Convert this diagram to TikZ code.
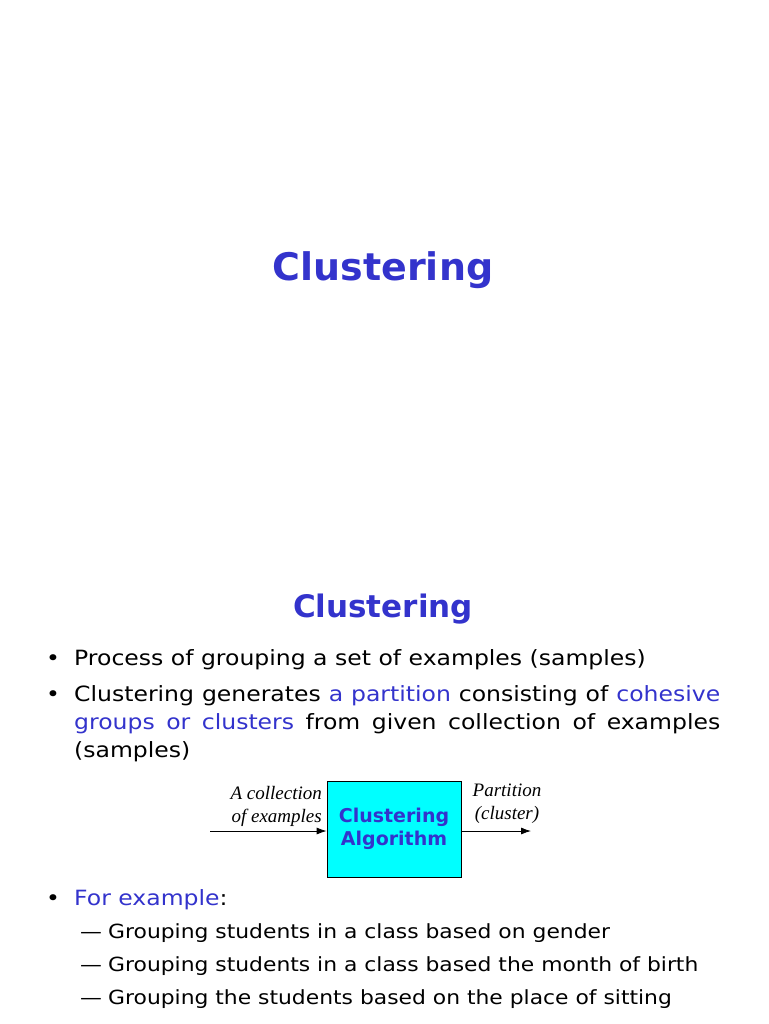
\documentclass[tikz,border=0pt]{standalone}
\usepackage{fontspec}
\setmainfont{DejaVu Sans}[FakeStretch=1.12]
\newfontfamily\titlefont{DejaVu Sans}
\newfontfamily\serifit{Liberation Serif}
\usetikzlibrary{arrows.meta}
\definecolor{tblue}{RGB}{51,51,204}
\definecolor{tcyan}{RGB}{0,255,255}
\begin{document}
\begin{tikzpicture}[x=1pt,y=-1pt,
  title/.style={font=\titlefont\bfseries\fontsize{38}{44}\selectfont,text=tblue},
  btext/.style={anchor=base west,font=\fontsize{21}{28}\selectfont,inner sep=0},
  stext/.style={anchor=base west,font=\fontsize{19.5}{26}\selectfont,inner sep=0},
  lab/.style={font=\serifit\itshape\fontsize{19}{23}\selectfont,inner sep=0,align=center},
  arr/.style={-{Latex[length=10pt,width=7pt]},thick}]
\useasboundingbox (0,0) rectangle (768,1024);
\node[title] (t1) at (383,270) {Clustering};
\node[title,font=\titlefont\bfseries\fontsize{31}{36}\selectfont] (t2) at (383,609) {Clustering};
\node[btext] (b1d) at (46,665) {•};
\node[btext] (b1) at (74,665) {Process of grouping a set of examples (samples)};
\node[btext] (b2d) at (46,701) {•};
\node[btext,text width=646pt,align=justify] (b2) at (74,701) {Clustering generates \textcolor{tblue}{a partition} consisting of \textcolor{tblue}{cohesive groups or clusters} from given collection of examples (samples)};
\node[draw,thick,fill=tcyan,minimum width=134pt,minimum height=96pt,inner sep=0,align=center,font=\titlefont\bfseries\fontsize{19}{23}\selectfont,text=tblue] (box) at (394,829) {Clustering\\Algorithm};
\coordinate (in) at (210,831);
\coordinate (out) at (531,831);
\draw[arr] (in) -- (in -| box.west);
\draw[arr] (out -| box.east) -- (out);
\node[lab,align=right,anchor=east] (l1) at (322,806) {A collection\\of examples};
\node[lab] (l2) at (507,804) {Partition\\(cluster)};
\node[btext] (b3d) at (46,905) {•};
\node[btext] (b3) at (74,905) {\textcolor{tblue}{For example}:};
\node[stext] (s1d) at (80,938) {—};
\node[stext] (s1) at (108,938) {Grouping students in a class based on gender};
\node[stext] (s2d) at (80,971) {—};
\node[stext] (s2) at (108,971) {Grouping students in a class based the month of birth};
\node[stext] (s3d) at (80,1004) {—};
\node[stext] (s3) at (108,1004) {Grouping the students based on the place of sitting};
\end{tikzpicture}
\end{document}
